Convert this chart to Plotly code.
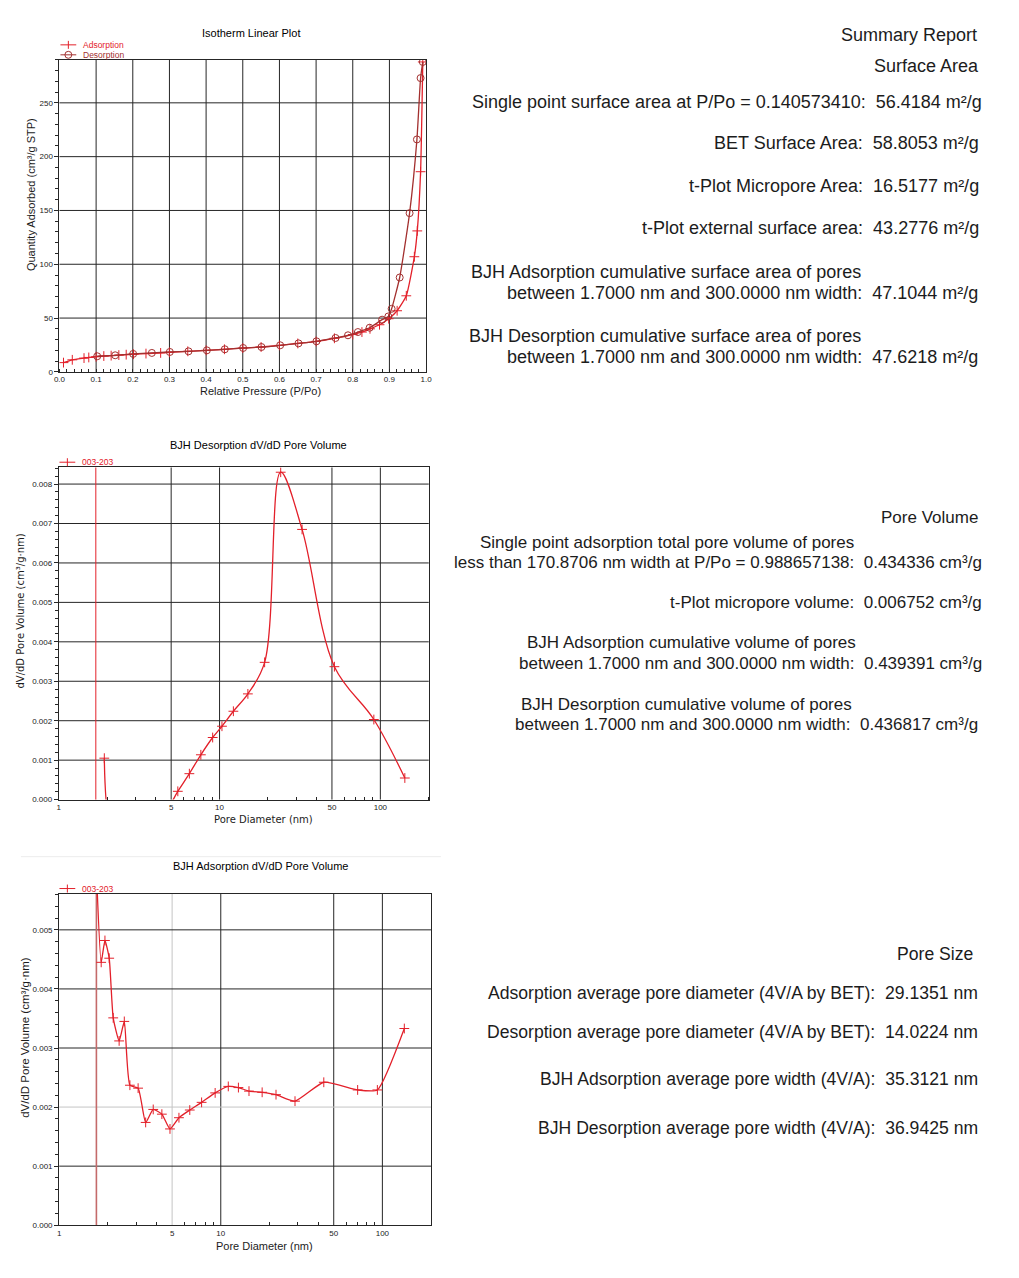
import math

import plotly.graph_objects as go

W, H = 1019, 1278
PAGE_MARGIN = 8  # body margin of the html page

# ---- Isotherm linear plot ----
ads_p = [0.011, 0.035, 0.067, 0.080, 0.100, 0.121, 0.141, 0.162, 0.182, 0.202, 0.236,
         0.276, 0.300, 0.350, 0.400, 0.450, 0.500, 0.550, 0.600, 0.650, 0.700, 0.750,
         0.800, 0.825, 0.847, 0.873, 0.898, 0.921, 0.946, 0.968, 0.976, 0.985, 0.991]
ads_q = [8.6, 11.2, 12.8, 13.4, 14.1, 14.7, 15.1, 15.6, 16.0, 16.4, 17.0,
         17.6, 18.2, 19.1, 20.0, 21.0, 22.1, 23.1, 24.6, 26.4, 28.3, 31.2,
         34.7, 37.0, 40.0, 43.8, 49.4, 56.8, 70.7, 107.0, 131.0, 186.0, 288.0]
des_p = [0.991, 0.985, 0.975, 0.955, 0.928, 0.906, 0.897, 0.880, 0.846, 0.814, 0.787,
         0.753, 0.701, 0.652, 0.602, 0.551, 0.501, 0.451, 0.402, 0.352, 0.301, 0.252,
         0.201, 0.152, 0.103]
des_q = [288.0, 273.0, 216.0, 147.5, 87.7, 58.6, 51.5, 48.5, 41.0, 37.0, 34.0,
         31.5, 28.4, 26.5, 24.7, 23.1, 22.2, 21.0, 20.0, 19.1, 18.5, 17.6,
         16.7, 15.4, 14.5]
iso_x_ticks = [0.0, 0.1, 0.2, 0.3, 0.4, 0.5, 0.6, 0.7, 0.8, 0.9, 1.0]
iso_y_ticks = [0, 50, 100, 150, 200, 250]

# ---- BJH desorption dV/dD pore volume ----
bjh_des_width = [1.92, 2.35, 4.6, 5.50, 6.49, 7.65, 9.06, 10.35, 12.19, 15.0, 19.07,
                 24.0, 32.6, 51.8, 91.1, 142.0]
bjh_des_dvdd = [0.00105, -0.0012, -0.0003, 0.00021, 0.000657, 0.001136, 0.001574, 0.00186,
                0.00224, 0.00268, 0.00348, 0.00830, 0.00685, 0.00337, 0.00203, 0.000547]
des_y_ticks = [0.000, 0.001, 0.002, 0.003, 0.004, 0.005, 0.006, 0.007, 0.008]

# ---- BJH adsorption dV/dD pore volume ----
bjh_ads_width = [1.70, 1.82, 1.92, 2.04, 2.16, 2.35, 2.53, 2.74, 3.08, 3.43, 3.82, 4.32,
                 4.85, 5.51, 6.43, 7.61, 9.23, 11.13, 12.86, 14.95, 18.03, 21.97, 28.8,
                 43.4, 70.3, 93.1, 136.7]
bjh_ads_dvdd = [0.00600, 0.00445, 0.00482, 0.00452, 0.00351, 0.00312, 0.00345, 0.00237,
                0.00232, 0.00174, 0.00196, 0.00188, 0.00163, 0.00182, 0.00195, 0.00208,
                0.00224, 0.00235, 0.00233, 0.00227, 0.00225, 0.00221, 0.00210, 0.00242,
                0.00229, 0.00229, 0.00333]
ads_y_ticks = [0.000, 0.001, 0.002, 0.003, 0.004, 0.005]

pore_x_ticks = [1, 5, 10, 50, 100]
pore_x_minor = [2, 3, 4, 6, 7, 8, 9, 20, 30, 40, 60, 70, 80, 90, 200]
BJH_MIN_WIDTH = 1.7  # nm, lower bound of the BJH range
SAMPLE = "003-203"

# ---- Summary report text ----
surface_area_lines = [
    "Summary Report",
    "Surface Area",
    "Single point surface area at P/Po = 0.140573410:  56.4184 m²/g",
    "BET Surface Area:  58.8053 m²/g",
    "t-Plot Micropore Area:  16.5177 m²/g",
    "t-Plot external surface area:  43.2776 m²/g",
    "BJH Adsorption cumulative surface area of pores",
    "between 1.7000 nm and 300.0000 nm width:  47.1044 m²/g",
    "BJH Desorption cumulative surface area of pores",
    "between 1.7000 nm and 300.0000 nm width:  47.6218 m²/g",
]
pore_volume_lines = [
    "Pore Volume",
    "Single point adsorption total pore volume of pores",
    "less than 170.8706 nm width at P/Po = 0.988657138:  0.434336 cm³/g",
    "t-Plot micropore volume:  0.006752 cm³/g",
    "BJH Adsorption cumulative volume of pores",
    "between 1.7000 nm and 300.0000 nm width:  0.439391 cm³/g",
    "BJH Desorption cumulative volume of pores",
    "between 1.7000 nm and 300.0000 nm width:  0.436817 cm³/g",
]
pore_size_lines = [
    "Pore Size",
    "Adsorption average pore diameter (4V/A by BET):  29.1351 nm",
    "Desorption average pore diameter (4V/A by BET):  14.0224 nm",
    "BJH Adsorption average pore width (4V/A):  35.3121 nm",
    "BJH Desorption average pore width (4V/A):  36.9425 nm",
]

RED = "#e3202a"
DARK_RED = "#a3302f"
GRID = "#262626"
LIGHT_GRID = "#c4c4c4"
TEXT = "#1c1c1c"
FONT = "Liberation Sans, Arial, sans-serif"


def px(x):
    return (x - PAGE_MARGIN) / W


def py(y):
    return 1 - (y - PAGE_MARGIN) / H


# plot boxes in page pixels: left, right, top, bottom
BOX = {
    "iso": (54, 425, 60, 373.3),
    "des": (53.3, 427.7, 469.3, 802.7),
    "ads": (53.7, 430, 897.3, 1230),
}


def axis_pair(box, **xkw):
    l, r, t, b = box
    common = dict(showline=True, mirror=True, linecolor=GRID, linewidth=1,
                  showgrid=False, zeroline=False, ticks="outside", ticklen=4,
                  tickcolor=GRID, tickfont=dict(family=FONT, size=8, color="#222"))
    xa = dict(common, domain=[px(l), px(r)])
    ya = dict(common, domain=[py(b), py(t)])
    xa.update(xkw)
    return xa, ya


fig = go.Figure()

# isotherm
fig.add_trace(go.Scatter(
    x=ads_p, y=ads_q, mode="lines+markers", xaxis="x", yaxis="y",
    line=dict(color=RED, width=1.3, shape="spline", smoothing=0.5),
    marker=dict(symbol="cross-thin", size=7, line=dict(color=RED, width=1)),
    showlegend=False,
))
fig.add_trace(go.Scatter(
    x=des_p, y=des_q, mode="lines+markers", xaxis="x", yaxis="y",
    line=dict(color=DARK_RED, width=1.3, shape="spline", smoothing=0.5),
    marker=dict(symbol="circle-open", size=7, line=dict(color=DARK_RED, width=1)),
    showlegend=False,
))

# BJH desorption
fig.add_trace(go.Scatter(
    x=bjh_des_width, y=bjh_des_dvdd, mode="lines+markers", xaxis="x2", yaxis="y2",
    line=dict(color=RED, width=1.3, shape="spline", smoothing=1.0),
    marker=dict(symbol="cross-thin", size=7, line=dict(color=RED, width=1)),
    showlegend=False,
))

# BJH adsorption
fig.add_trace(go.Scatter(
    x=bjh_ads_width, y=bjh_ads_dvdd, mode="lines+markers", xaxis="x3", yaxis="y3",
    line=dict(color=RED, width=1.3, shape="spline", smoothing=0.5),
    marker=dict(symbol="cross-thin", size=7, line=dict(color=RED, width=1)),
    showlegend=False,
))

log_range = [0, math.log10(200)]

x1, y1 = axis_pair(BOX["iso"], range=[0, 1], tickvals=iso_x_ticks, tickformat=".1f",
                   ticks="", minor=dict(dtick=0.02, ticks="inside", ticklen=3, tickcolor=GRID))
y1.update(range=[0, 290], tickvals=iso_y_ticks,
          minor=dict(dtick=10, ticks="outside", ticklen=3, tickcolor=GRID))

x2, y2 = axis_pair(BOX["des"], type="log", range=log_range, tickvals=pore_x_ticks, ticks="",
                   minor=dict(tickvals=pore_x_minor, ticks="inside", ticklen=3, tickcolor=GRID))
y2.update(range=[0, 0.00842], tickvals=des_y_ticks, tickformat=".3f",
          minor=dict(dtick=0.0002, ticks="outside", ticklen=3, tickcolor=GRID))

x3, y3 = axis_pair(BOX["ads"], type="log", range=log_range, tickvals=pore_x_ticks, ticks="",
                   minor=dict(tickvals=pore_x_minor, ticks="inside", ticklen=3, tickcolor=GRID))
y3.update(range=[0, 0.00561], tickvals=ads_y_ticks, tickformat=".3f",
          minor=dict(dtick=0.0002, ticks="outside", ticklen=3, tickcolor=GRID))

x2["anchor"], y2["anchor"] = "y2", "x2"
x3["anchor"], y3["anchor"] = "y3", "x3"


# gridlines as shapes so single lines can be lighter
def add_grid(xref, yref, xs, ys, light=()):
    for v in xs:
        fig.add_shape(type="line", xref=xref, yref=f"{yref} domain", x0=v, x1=v, y0=0, y1=1,
                      line=dict(color=LIGHT_GRID if v in light else GRID, width=1),
                      layer="below")
    for v in ys:
        fig.add_shape(type="line", xref=f"{xref} domain", yref=yref, x0=0, x1=1, y0=v, y1=v,
                      line=dict(color=LIGHT_GRID if v in light else GRID, width=1),
                      layer="below")


add_grid("x", "y", iso_x_ticks[1:-1], iso_y_ticks[1:])
add_grid("x2", "y2", pore_x_ticks[1:], des_y_ticks[1:])
add_grid("x3", "y3", pore_x_ticks[1:], ads_y_ticks[1:], light=(5, 0.002))

# lower BJH limit
fig.add_shape(type="line", xref="x2", yref="y2 domain", x0=BJH_MIN_WIDTH, x1=BJH_MIN_WIDTH,
              y0=0, y1=1, line=dict(color=RED, width=1), layer="below")
fig.add_shape(type="line", xref="x3", yref="y3 domain", x0=BJH_MIN_WIDTH, x1=BJH_MIN_WIDTH,
              y0=0, y1=1, line=dict(color="#c46a6a", width=1.6), layer="below")

# faint separator above last chart
fig.add_shape(type="line", xref="paper", yref="paper", x0=px(15), x1=px(440),
              y0=py(860), y1=py(860), line=dict(color="#ececec", width=1))

annotations = []


def label(text, x, y, size=11, color=TEXT, anchor="center", angle=0, family=FONT):
    annotations.append(dict(
        text=text, x=px(x), y=py(y), xref="paper", yref="paper", showarrow=False,
        xanchor=anchor, yanchor="middle", textangle=angle,
        font=dict(family=family, size=size, color=color),
    ))


def legend_entry(x0, y, text, color, symbol):
    fig.add_shape(type="line", xref="paper", yref="paper", x0=px(x0), x1=px(x0 + 16),
                  y0=py(y), y1=py(y), line=dict(color=color, width=1))
    cx = x0 + 8
    if symbol == "cross":
        fig.add_shape(type="line", xref="paper", yref="paper", x0=px(cx), x1=px(cx),
                      y0=py(y - 4), y1=py(y + 4), line=dict(color=color, width=1))
    else:
        fig.add_shape(type="circle", xref="paper", yref="paper", x0=px(cx - 3.5), x1=px(cx + 3.5),
                      y0=py(y + 3.5), y1=py(y - 3.5), line=dict(color=color, width=1))
    label(text, x0 + 21, y, size=8.5, color=color, anchor="left")


# chart titles and axis titles
label("Isotherm Linear Plot", 248, 33, color="#000")
label("Relative Pressure (P/Po)", 257, 393)
label("Quantity Adsorbed (cm³/g STP)", 25, 195, angle=-90)
legend_entry(55, 45, "Adsorption", RED, "cross")
legend_entry(55, 55, "Desorption", DARK_RED, "circle")

label("BJH Desorption dV/dD Pore Volume", 255, 447, color="#000")
label("Pore Diameter (nm)", 260, 823, size=10, family="DejaVu Sans, sans-serif")
label("dV/dD Pore Volume (cm³/g·nm)", 15, 613, size=10, angle=-90,
      family="DejaVu Sans, sans-serif")
legend_entry(54, 464, SAMPLE, RED, "cross")

label("BJH Adsorption dV/dD Pore Volume", 257, 869, color="#000")
label("Pore Diameter (nm)", 261, 1251)
label("dV/dD Pore Volume (cm³/g·nm)", 19, 1041, size=11.5, angle=-90)
legend_entry(54, 892, SAMPLE, RED, "cross")

# summary report, right aligned
surface_pos = [(985, 35), (987, 66), (990, 102), (987, 144), (987, 187), (987, 229),
               (867, 273), (986, 294), (867, 337), (986, 358)]
for text, (x, y) in zip(surface_area_lines, surface_pos):
    label(text, x, y, size=18, anchor="right")

volume_pos = [(986, 520), (860, 545), (990, 565), (990, 605), (862, 645), (990, 666),
              (858, 707), (986, 727)]
for text, (x, y) in zip(pore_volume_lines, volume_pos):
    label(text, x, y, size=17, anchor="right")

size_pos = [(980, 958), (986, 997), (986, 1036), (986, 1083), (986, 1132)]
for text, (x, y) in zip(pore_size_lines, size_pos):
    label(text, x, y, size=17.6, anchor="right")

fig.update_layout(
    width=W, height=H,
    margin=dict(l=0, r=0, t=0, b=0),
    paper_bgcolor="white", plot_bgcolor="white",
    font=dict(family=FONT, color=TEXT),
    xaxis=x1, yaxis=y1,
    xaxis2=x2, yaxis2=y2,
    xaxis3=x3, yaxis3=y3,
    annotations=annotations,
    showlegend=False,
)

fig.write_html("out.html")
